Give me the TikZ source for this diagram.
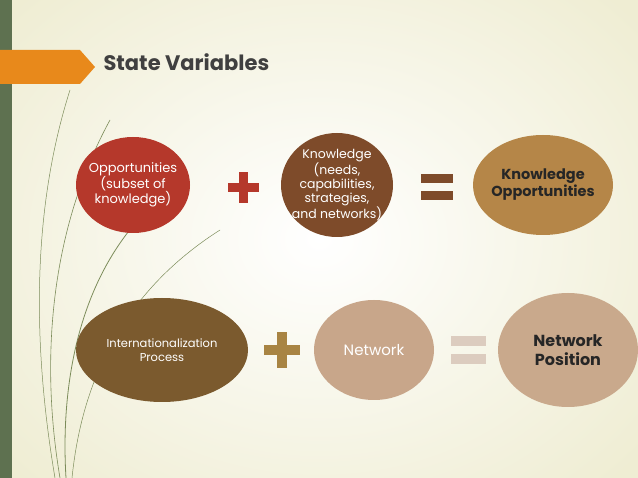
\documentclass[tikz,border=0pt]{standalone}
\usepackage{fontspec}
\setmainfont{Poppins}
\usetikzlibrary{shapes.geometric}
\begin{document}
\begin{tikzpicture}[x=1pt,y=-1pt,
  bub/.style={draw=none,ellipse,inner sep=0pt},
  lbl/.style={align=center,inner sep=0pt,text=white,font=\fontsize{13}{15}\selectfont},
  bold/.style={font=\bfseries\fontsize{14.5}{17}\selectfont,text=black!85}]
\definecolor{bgA}{HTML}{EFEDD3}
\definecolor{barG}{HTML}{5E7150}
\definecolor{orng}{HTML}{E8891B}
\definecolor{redA}{HTML}{B5382B}
\definecolor{brnA}{HTML}{7E4B2A}
\definecolor{tanA}{HTML}{B58648}
\definecolor{brnB}{HTML}{7B5A2E}
\definecolor{tanB}{HTML}{C8A68A}
\definecolor{tanC}{HTML}{C9A98C}
\definecolor{plusB}{HTML}{A88443}
\definecolor{eqB}{HTML}{DCCCBF}
\definecolor{lineG}{HTML}{7C8C5A}
\useasboundingbox (0,0) rectangle (638,478);
\fill[inner color=white,outer color=bgA] (-100,-100) rectangle (738,578);
\fill[barG] (0,0) rectangle (12,478);
% decorative lines
\draw[lineG,line width=0.6pt] (60,478) .. controls (40,360) and (50,230) .. (110,120);
\draw[lineG,line width=0.8pt] (66,478) .. controls (60,380) and (80,260) .. (170,190);
\draw[lineG,line width=0.5pt] (55,478) .. controls (30,330) and (35,200) .. (70,90);
\draw[lineG,line width=0.5pt] (72,478) .. controls (80,400) and (110,300) .. (220,230);
% banner
\fill[orng] (0,50) -- (80,50) -- (95,67) -- (80,84) -- (0,84) -- cycle;
\node[anchor=west,text=black!75,font=\bfseries\fontsize{21}{24}\selectfont] (title) at (100,62) {State Variables};
% row 1
\node[bub,fill=redA,minimum width=114pt,minimum height=96pt] (opp) at (133,185) {};
\node[lbl] (oppT) at (opp.center) {Opportunities\\(subset of\\knowledge)};
\node[bub,fill=brnA,minimum width=112pt,minimum height=104pt] (kn) at (337,185) {};
\node[lbl,font=\fontsize{12.5}{14}\selectfont] (knT) at (kn.center) {Knowledge\\(needs,\\capabilities,\\strategies,\\and networks)};
\node[bub,fill=tanA,minimum width=140pt,minimum height=100pt] (ko) at (543,185) {};
\node[lbl,bold] (koT) at (ko.center) {Knowledge\\Opportunities};
\fill[redA] (239,172) rectangle (248,203); \fill[redA] (228,183) rectangle (259,192);
\fill[brnA] (421,174) rectangle (453,183); \fill[brnA] (421,191) rectangle (453,200);
% row 2
\node[bub,fill=brnB,minimum width=172pt,minimum height=104pt] (ip) at (162,350) {};
\node[lbl,font=\fontsize{11.5}{13.5}\selectfont] (ipT) at (ip.center) {Internationalization\\Process};
\node[bub,fill=tanB,minimum width=120pt,minimum height=100pt] (nw) at (374,350) {};
\node[lbl,font=\fontsize{15}{17}\selectfont] (nwT) at (nw.center) {Network};
\node[bub,fill=tanC,minimum width=140pt,minimum height=114pt] (np) at (568,350) {};
\node[lbl,bold,font=\bfseries\fontsize{16}{19}\selectfont] (npT) at (np.center) {Network\\Position};
\fill[plusB] (277,332) rectangle (287,368); \fill[plusB] (264,345) rectangle (300,355);
\fill[eqB] (451,336) rectangle (486,346); \fill[eqB] (451,354) rectangle (486,364);
\end{tikzpicture}
\end{document}
